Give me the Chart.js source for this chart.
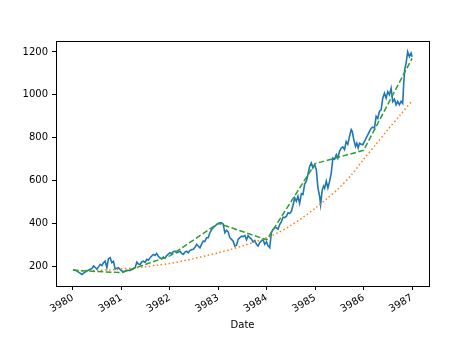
<!DOCTYPE html>
<html>
<head>
<meta charset="utf-8">
<script src="https://cdn.jsdelivr.net/npm/chart.js@4.4.0/dist/chart.umd.min.js"></script>
<style>
  html, body { margin: 0; padding: 0; background: #fff; }
  #wrap { width: 474px; height: 352px; }
</style>
</head>
<body>
<div id="wrap"><canvas id="priceChart" width="474" height="352"></canvas></div>
<script>
// price series (decimal year, value)
const dates = [
  3980.000, 3980.068, 3980.130, 3980.185, 3980.233, 3980.288, 3980.336, 3980.391, 3980.424, 3980.459,
  3980.494, 3980.531, 3980.562, 3980.597, 3980.630, 3980.665, 3980.700, 3980.733, 3980.768, 3980.803,
  3980.836, 3980.871, 3980.906, 3980.939, 3980.974, 3981.009, 3981.042, 3981.112, 3981.180, 3981.248,
  3981.283, 3981.318, 3981.351, 3981.386, 3981.421, 3981.454, 3981.489, 3981.524, 3981.557, 3981.592,
  3981.627, 3981.659, 3981.694, 3981.729, 3981.762, 3981.797, 3981.832, 3981.865, 3981.900, 3981.935,
  3981.968, 3982.003, 3982.038, 3982.071, 3982.106, 3982.141, 3982.174, 3982.209, 3982.244, 3982.277,
  3982.312, 3982.347, 3982.380, 3982.415, 3982.450, 3982.483, 3982.518, 3982.553, 3982.586, 3982.621,
  3982.656, 3982.689, 3982.724, 3982.759, 3982.792, 3982.827, 3982.862, 3982.895, 3982.930, 3982.965,
  3982.998, 3983.033, 3983.068, 3983.101, 3983.136, 3983.171, 3983.204, 3983.239, 3983.274, 3983.307,
  3983.342, 3983.377, 3983.410, 3983.445, 3983.480, 3983.513, 3983.548, 3983.583, 3983.616, 3983.651,
  3983.686, 3983.718, 3983.753, 3983.788, 3983.821, 3983.856, 3983.891, 3983.924, 3983.959, 3983.994,
  3984.027, 3984.062, 3984.097, 3984.130, 3984.165, 3984.200, 3984.233, 3984.268, 3984.303, 3984.336,
  3984.371, 3984.406, 3984.439, 3984.474, 3984.509, 3984.542, 3984.577, 3984.612, 3984.645, 3984.680,
  3984.715, 3984.748, 3984.783, 3984.818, 3984.851, 3984.886, 3984.921, 3984.954, 3984.989, 3985.024,
  3985.057, 3985.092, 3985.112, 3985.147, 3985.174, 3985.195, 3985.230, 3985.263, 3985.298, 3985.333,
  3985.366, 3985.401, 3985.436, 3985.468, 3985.503, 3985.538, 3985.571, 3985.606, 3985.641, 3985.674,
  3985.709, 3985.744, 3985.765, 3985.798, 3985.833, 3985.860, 3985.888, 3985.915, 3985.950, 3985.983,
  3986.018, 3986.053, 3986.086, 3986.121, 3986.156, 3986.189, 3986.224, 3986.259, 3986.292, 3986.327,
  3986.362, 3986.395, 3986.430, 3986.465, 3986.498, 3986.533, 3986.568, 3986.601, 3986.636, 3986.671,
  3986.704, 3986.739, 3986.774, 3986.807, 3986.827, 3986.848, 3986.877, 3986.910, 3986.945, 3986.980,
  3987.000
];
const price = [
  185, 182, 172, 164, 172, 180, 186, 191, 203, 197,
  188, 200, 211, 205, 218, 226, 195, 237, 242, 219,
  225, 188, 193, 195, 187, 180, 176, 183, 182, 190,
  195, 221, 212, 210, 222, 226, 220, 234, 230, 242,
  250, 257, 252, 262, 248, 240, 237, 245, 240, 252,
  258, 265, 260, 270, 272, 265, 268, 272, 262, 257,
  268, 272, 265, 275, 280, 280, 290, 304, 296, 288,
  305, 319, 318, 335, 335, 358, 373, 381, 389, 396,
  400, 404, 404, 398, 358, 370, 362, 335, 327, 319,
  296, 300, 327, 335, 342, 340, 345, 325, 345, 335,
  328, 315, 322, 304, 296, 312, 320, 327, 304, 315,
  298, 288, 360, 373, 381, 381, 375, 396, 410, 430,
  428, 435, 451, 448, 458, 485, 520, 505, 528, 495,
  540, 536, 585, 598, 630, 667, 683, 660, 675, 652,
  567, 528, 489, 559, 575, 565, 598, 567, 598, 637,
  706, 700, 722, 705, 737, 753, 758, 745, 783, 770,
  807, 838, 830, 791, 760, 775, 753, 775, 770, 768,
  783, 800, 814, 830, 845, 850, 845, 900, 890, 923,
  930, 985, 1008, 985, 1015, 1000, 1031, 969, 980, 954,
  970, 954, 970, 960, 1047, 1117, 1148, 1201, 1178, 1195,
  1178
];

// smooth trend (orange dotted)
const trendDates = [
  3980.00, 3980.25, 3980.50, 3980.75, 3981.00, 3981.25, 3981.50, 3981.75,
  3982.00, 3982.25, 3982.50, 3982.75, 3983.00, 3983.25, 3983.50, 3983.75,
  3984.00, 3984.25, 3984.50, 3984.75, 3985.00, 3985.25, 3985.50, 3985.75,
  3986.00, 3986.25, 3986.50, 3986.75, 3987.00
];
const trendValues = [
  183, 182, 183, 185, 189, 194, 200, 207,
  215, 226, 238, 251, 265, 280, 297, 315,
  335, 360, 392, 430, 472, 518, 568, 628,
  700, 768, 838, 905, 972
];

// yearly points (green dashed)
const yearDates = [3980, 3981, 3982, 3983, 3984, 3985, 3986, 3987];
const yearValues = [183, 172, 250, 402, 325, 680, 742, 1170];

const xTicks = [3980, 3981, 3982, 3983, 3984, 3985, 3986, 3987];
const yTicks = [200, 400, 600, 800, 1000, 1200];

const toXY = (xs, ys) => xs.map((x, i) => ({ x: x, y: ys[i] }));

const tickFont = { family: "DejaVu Sans", size: 10 };

// box around the plot like matplotlib spines
const frame = {
    id: "frame",
    afterDatasetsDraw(chart) {
        const a = chart.chartArea;
        const c = chart.ctx;
        c.save();
        c.strokeStyle = "#000";
        c.lineWidth = 1;
        c.strokeRect(Math.round(a.left) + 0.5, Math.round(a.top) + 0.5,
                     Math.round(a.right - a.left), Math.round(a.bottom - a.top));
        c.restore();
    }
};

new Chart(document.getElementById("priceChart").getContext("2d"), {
    type: "line",
    data: {
        datasets: [
            {
                data: toXY(dates, price),
                borderColor: "#1f77b4",
                borderWidth: 1.6,
                pointRadius: 0,
                tension: 0,
                order: 3
            },
            {
                data: toXY(trendDates, trendValues),
                borderColor: "#ff7f0e",
                borderWidth: 1.5,
                borderDash: [1.5, 2.5],
                pointRadius: 0,
                tension: 0.3,
                order: 2
            },
            {
                data: toXY(yearDates, yearValues),
                borderColor: "#2ca02c",
                borderWidth: 1.5,
                borderDash: [5.7, 2.5],
                pointRadius: 0,
                tension: 0,
                order: 1
            }
        ]
    },
    options: {
        responsive: false,
        animation: false,
        devicePixelRatio: 1,
        layout: { padding: { left: 0, right: 45, top: 41, bottom: 21 } },
        scales: {
            x: {
                type: "linear",
                min: 3979.65,
                max: 3987.35,
                afterBuildTicks: (s) => { s.ticks = xTicks.map(v => ({ value: v })); },
                afterFit: (s) => { s.height = 45; },
                ticks: {
                    autoSkip: false,
                    minRotation: 30,
                    maxRotation: 30,
                    color: "#000",
                    font: tickFont,
                    padding: 2,
                    callback: (v) => String(v)
                },
                grid: { display: true, drawOnChartArea: false, drawTicks: true, tickLength: 4, color: "#000" },
                border: { display: true, color: "#000", width: 1 },
                title: { display: true, text: "Date", color: "#000", font: tickFont, padding: 0 }
            },
            y: {
                min: 110,
                max: 1251,
                afterBuildTicks: (s) => { s.ticks = yTicks.map(v => ({ value: v })); },
                afterFit: (s) => { s.width = 56; },
                ticks: {
                    color: "#000",
                    font: tickFont,
                    padding: 4,
                    callback: (v) => String(v)
                },
                grid: { display: true, drawOnChartArea: false, drawTicks: true, tickLength: 4, color: "#000" },
                border: { display: true, color: "#000", width: 1 }
            }
        },
        plugins: {
            legend: { display: false },
            tooltip: { enabled: false }
        }
    },
    plugins: [frame]
});
</script>
</body>
</html>
